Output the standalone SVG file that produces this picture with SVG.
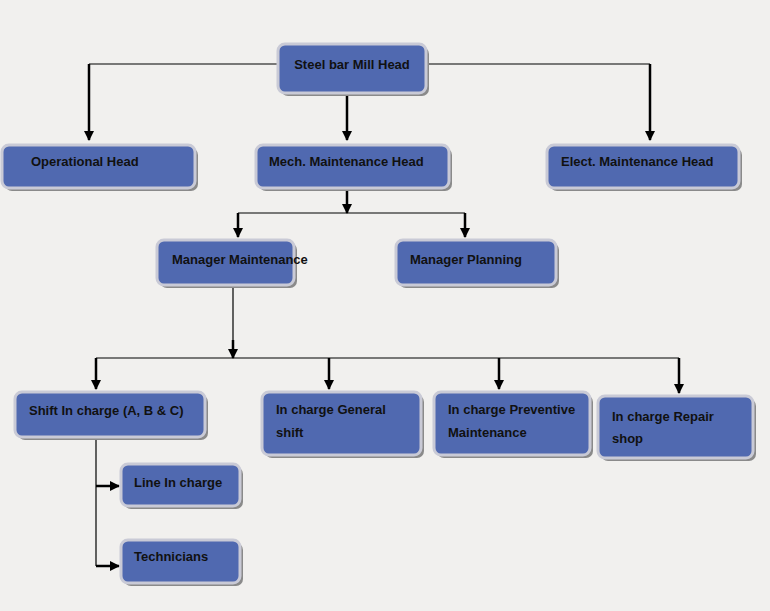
<svg xmlns="http://www.w3.org/2000/svg" width="770" height="611" viewBox="0 0 770 611">
<style>
.b{fill:#5069b0;stroke:#c9cad6;stroke-width:3}
.s{fill:#8a8a8a}
.t{font-family:"Liberation Sans",Arial,sans-serif;font-weight:bold;font-size:13px;fill:#111}
.th{stroke:#000;stroke-width:1.2;fill:none}
.tk{stroke:#000;stroke-width:2.5;fill:none}
</style>
<defs><marker id="a" viewBox="0 0 10 10" refX="9" refY="5" markerWidth="4" markerHeight="4" orient="auto"><path d="M0,0L10,5L0,10z" fill="#000"/></marker></defs>
<rect width="770" height="611" fill="#f1f0ee"/>
<g id="connectors">
<path class="th" d="M89,64H278M426,64H650"/>
<path class="tk" d="M89,64V140" marker-end="url(#a)"/>
<path class="tk" d="M347,93V140" marker-end="url(#a)"/>
<path class="tk" d="M650,64V140" marker-end="url(#a)"/>
<path class="tk" d="M347,188V213" marker-end="url(#a)"/>
<path class="th" d="M238,213H465"/>
<path class="tk" d="M238,213V237" marker-end="url(#a)"/>
<path class="tk" d="M465,213V237" marker-end="url(#a)"/>
<path class="th" d="M233,285V350"/>
<path class="tk" d="M233,340V358" marker-end="url(#a)"/>
<path class="th" d="M96,358H679"/>
<path class="tk" d="M96,358V389" marker-end="url(#a)"/>
<path class="tk" d="M329,358V389" marker-end="url(#a)"/>
<path class="tk" d="M499,358V389" marker-end="url(#a)"/>
<path class="tk" d="M679,358V393" marker-end="url(#a)"/>
<path class="th" d="M96,437V566"/>
<path class="tk" d="M96,486H119" marker-end="url(#a)"/>
<path class="tk" d="M96,566H119" marker-end="url(#a)"/>
</g>
<g id="n1"><rect class="s" x="281" y="47" width="148" height="49" rx="7"/><rect class="b" x="278" y="44" width="148" height="49" rx="7"/><text class="t" x="352" y="69" text-anchor="middle">Steel bar Mill Head</text></g>
<g id="n2"><rect class="s" x="5" y="148" width="193" height="43" rx="7"/><rect class="b" x="2" y="145" width="193" height="43" rx="7"/><text class="t" x="31" y="166">Operational Head</text></g>
<g id="n3"><rect class="s" x="259" y="148" width="193" height="43" rx="7"/><rect class="b" x="256" y="145" width="193" height="43" rx="7"/><text class="t" x="269" y="166">Mech. Maintenance Head</text></g>
<g id="n4"><rect class="s" x="550" y="148" width="192" height="43" rx="7"/><rect class="b" x="547" y="145" width="192" height="43" rx="7"/><text class="t" x="561" y="166">Elect. Maintenance Head</text></g>
<g id="n5"><rect class="s" x="160" y="243" width="137" height="45" rx="7"/><rect class="b" x="157" y="240" width="137" height="45" rx="7"/><text class="t" x="172" y="264">Manager Maintenance</text></g>
<g id="n6"><rect class="s" x="399" y="243" width="160" height="45" rx="7"/><rect class="b" x="396" y="240" width="160" height="45" rx="7"/><text class="t" x="410" y="264">Manager Planning</text></g>
<g id="n7"><rect class="s" x="18" y="395" width="190" height="45" rx="7"/><rect class="b" x="15" y="392" width="190" height="45" rx="7"/><text class="t" x="29" y="415">Shift In charge (A, B &amp; C)</text></g>
<g id="n8"><rect class="s" x="265" y="395" width="159" height="63" rx="7"/><rect class="b" x="262" y="392" width="159" height="63" rx="7"/><text class="t" x="276" y="414">In charge General</text><text class="t" x="276" y="437">shift</text></g>
<g id="n9"><rect class="s" x="437" y="395" width="156" height="63" rx="7"/><rect class="b" x="434" y="392" width="156" height="63" rx="7"/><text class="t" x="448" y="414">In charge Preventive</text><text class="t" x="448" y="437">Maintenance</text></g>
<g id="n10"><rect class="s" x="601" y="399" width="155" height="62" rx="7"/><rect class="b" x="598" y="396" width="155" height="62" rx="7"/><text class="t" x="612" y="421">In charge Repair</text><text class="t" x="612" y="443">shop</text></g>
<g id="n11"><rect class="s" x="124" y="467" width="119" height="42" rx="7"/><rect class="b" x="121" y="464" width="119" height="42" rx="7"/><text class="t" x="134" y="487">Line In charge</text></g>
<g id="n12"><rect class="s" x="124" y="543" width="119" height="43" rx="7"/><rect class="b" x="121" y="540" width="119" height="43" rx="7"/><text class="t" x="134" y="561">Technicians</text></g>
</svg>
